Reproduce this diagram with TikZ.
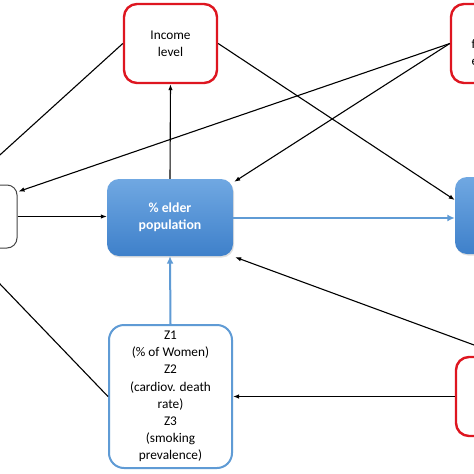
\documentclass[tikz,border=0pt]{standalone}
\usepackage{fontspec}
\setmainfont{Carlito}
\usetikzlibrary{arrows.meta,shadows,calc}
\definecolor{myred}{RGB}{222,22,32}
\definecolor{myblue}{RGB}{95,155,213}
\definecolor{blA}{RGB}{112,168,226}
\definecolor{blB}{RGB}{62,128,202}
\definecolor{edge}{RGB}{70,70,70}
\begin{document}
\begin{tikzpicture}[x=1pt,y=-1pt,
  redbox/.style={draw=myred, line width=2.4pt, rounded corners=13pt, fill=white,
    minimum width=93pt, minimum height=79pt, align=center, inner sep=0pt,
    font=\fontsize{13.3}{17}\selectfont},
  bluebox/.style={rounded corners=12pt, top color=blA, bottom color=blB, draw=none,
    text=white, minimum width=126pt, minimum height=77pt, align=center, inner sep=0pt,
    font=\bfseries\fontsize{13.8}{17}\selectfont,
    drop shadow={opacity=0.25, shadow xshift=1pt, shadow yshift=-1.5pt}},
  zbox/.style={draw=myblue, line width=2pt, rounded corners=15pt, fill=white,
    minimum width=123pt, minimum height=143pt, align=center, inner sep=0pt,
    font=\fontsize{13.3}{17.2}\selectfont},
  greybox/.style={draw=edge, line width=1pt, rounded corners=10pt, fill=white,
    minimum width=77pt, minimum height=63pt},
  arr/.style={-{Latex[length=6pt,width=4.5pt]}, line width=1.1pt, draw=black},
  plain/.style={line width=1.1pt, draw=black},
  barr/.style={-{Latex[length=7.5pt,width=7pt]}, line width=2pt, draw=myblue}
]
\useasboundingbox (0,0) rectangle (474,474);
\clip (0,0) rectangle (474,474);
\fill[white] (0,0) rectangle (474,474);

% nodes
\node[redbox] (income) at (170.5,43.5) {Income\\level};
\node[redbox] (tr) at (497.5,43.5) {};
\node[anchor=west, font=\fontsize{13.3}{17}\selectfont, align=left, inner sep=0pt] (trtext) at (471.5,52) {f\\e};
\node[greybox] (left) at (-21.5,216.5) {};
\node[bluebox] (elder) at (170,217.5) {\% elder\\population};
\node[bluebox] (rblue) at (518,215.5) {};
\node[zbox] (z) at (170.5,396.5) {Z1\\(\% of Women)\\Z2\\(cardiov. death\\rate)\\Z3\\(smoking\\prevalence)};
\node[redbox] (br) at (502.5,396.5) {};

\coordinate (offA) at (-5,159.4);
\coordinate (offB) at (-5,278.8);
\coordinate (offC) at (480,347.2);

% connectors
\draw[plain] (income.west) -- (offA);
\draw[arr] (income.east) -- ([yshift=15.5pt]rblue.west);
\draw[arr] (tr.west) -- ([yshift=25pt,xshift=1pt]left.east);
\draw[arr] (tr.west) -- ([yshift=-3pt,xshift=1pt]elder.north east);
\draw[arr] (elder.north) -- (income.south);
\draw[arr] (left.east) -- (left.east -| elder.west);
\draw[barr] (elder.east |- 0,218) -- (rblue.west |- 0,218);
\draw[barr] (z.north) -- (elder.south);
\draw[plain] (offB) -- (z.west);
\draw[arr] (br.west) -- (z.east);
\draw[arr] (offC) -- ([xshift=2pt,yshift=-1pt]elder.south east);
\end{tikzpicture}
\end{document}
